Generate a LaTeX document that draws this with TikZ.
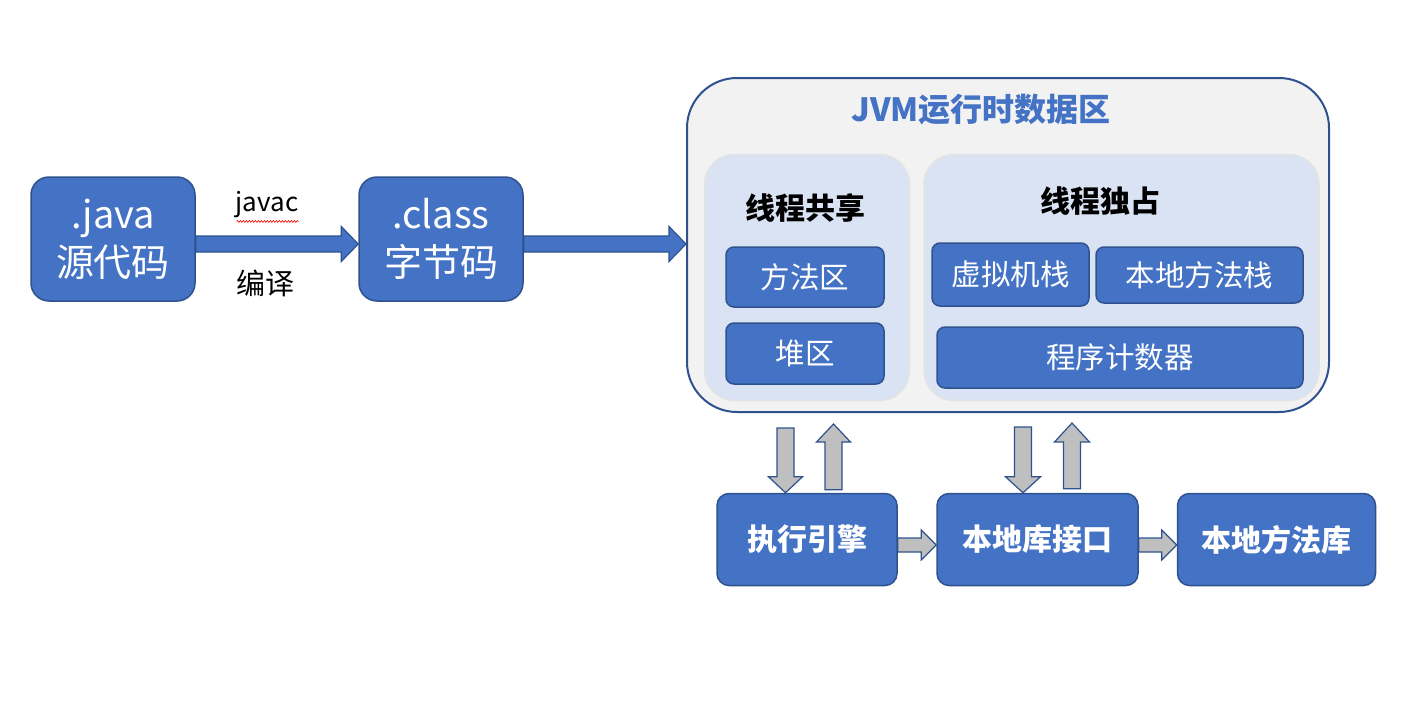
\documentclass[tikz,border=0pt]{standalone}
\usepackage{fontspec}
\setmainfont{Noto Sans CJK SC}
\usetikzlibrary{calc,decorations.pathmorphing}
\definecolor{boxblue}{HTML}{4472C4}
\definecolor{edgeblue}{HTML}{2F528F}
\definecolor{panelbg}{HTML}{DAE3F3}
\definecolor{jvmbg}{HTML}{F2F2F2}
\definecolor{arrowgrey}{HTML}{BFBFBF}
\definecolor{paneledge}{HTML}{E3E3E3}
% right-pointing block arrow: style, start, tip, shaft half, head half, head length
\newcommand\rblockarrow[6]{\draw[#1] ($(#2)+(0,-#4)$) -- ($(#3)+(-#6,-#4)$) -- ($(#3)+(-#6,-#5)$) -- (#3) -- ($(#3)+(-#6,#5)$) -- ($(#3)+(-#6,#4)$) -- ($(#2)+(0,#4)$) -- cycle;}
% downward block arrow
\newcommand\dblockarrow[6]{\draw[#1] ($(#2)+(-#4,0)$) -- ($(#3)+(-#4,-#6)$) -- ($(#3)+(-#5,-#6)$) -- (#3) -- ($(#3)+(#5,-#6)$) -- ($(#3)+(#4,-#6)$) -- ($(#2)+(#4,0)$) -- cycle;}
% upward block arrow
\newcommand\ublockarrow[6]{\draw[#1] ($(#2)+(-#4,0)$) -- ($(#3)+(-#4,#6)$) -- ($(#3)+(-#5,#6)$) -- (#3) -- ($(#3)+(#5,#6)$) -- ($(#3)+(#4,#6)$) -- ($(#2)+(#4,0)$) -- cycle;}
\begin{document}
\begin{tikzpicture}[x=1pt,y=-1pt,
  bluebox/.style={draw=edgeblue, line width=1.5pt, fill=boxblue, rounded corners=#1, text=white, inner sep=0pt, align=center},
  bluebox/.default=10pt,
  bigtext/.style={font=\fontsize{38}{48}\selectfont},
  midtext/.style={font=\fontsize{29.5}{34}\selectfont},
  boldtext/.style={font=\fontsize{30}{34}\selectfont\bfseries},
  panel/.style={draw=paneledge, line width=1.5pt, fill=panelbg, rounded corners=30pt},
  bluearrow/.style={draw=edgeblue, line width=1.2pt, fill=boxblue, line join=miter},
  greyarrow/.style={draw=edgeblue, line width=1.2pt, fill=arrowgrey, line join=miter},
  label/.style={text=black, inner sep=0pt}
]
\useasboundingbox[fill=white] (0,0) rectangle (1406,715);

% left chain
\node[bluebox=18pt, bigtext, minimum width=164pt, minimum height=124pt] (java) at (113,239) {.java\\源代码};
\node[bluebox=18pt, bigtext, minimum width=164pt, minimum height=124pt] (class) at (441,239) {.class\\字节码};
\node[label, font=\fontsize{26}{30}\selectfont] (javac) at (267,205) {javac};
\node[label, font=\fontsize{29}{32}\selectfont] (bianyi) at (265,283) {编译};
\draw[red, line width=0.6pt, decorate, decoration={snake, amplitude=0.9pt, segment length=3pt}] ($(javac.south west)+(1,3)$) -- ($(javac.south east)+(0,3)$);

% JVM area
\node[draw=edgeblue, line width=2pt, fill=jvmbg, rounded corners=50pt, minimum width=642pt, minimum height=334pt] (jvm) at (1008,245) {};
\node[text=boxblue, font=\fontsize{32}{36}\selectfont\bfseries, inner sep=0pt] (title) at (981,110) {JVM运行时数据区};
\node[panel, minimum width=205pt, minimum height=246pt] (shared) at (807,277.5) {};
\node[panel, minimum width=395pt, minimum height=246pt] (private) at (1121.5,277.5) {};
\node[label, font=\fontsize{30}{34}\selectfont\bfseries] (sharedlbl) at (805,208) {线程共享};
\node[label, font=\fontsize{30}{34}\selectfont\bfseries] (privatelbl) at (1100,201) {线程独占};

\node[bluebox=8pt, midtext, minimum width=158pt, minimum height=60pt] (method) at (805,277) {方法区};
\node[bluebox=8pt, midtext, minimum width=158pt, minimum height=61pt] (heap) at (805,353.5) {堆区};
\node[bluebox=8pt, midtext, minimum width=157pt, minimum height=63pt] (vstack) at (1010.5,274.5) {虚拟机栈};
\node[bluebox=8pt, midtext, minimum width=207pt, minimum height=56pt] (nstack) at (1199.5,275) {本地方法栈};
\node[bluebox=8pt, midtext, minimum width=366pt, minimum height=61pt] (pc) at (1120,357.5) {程序计数器};

% bottom chain
\node[bluebox=12pt, boldtext, minimum width=180pt, minimum height=92pt] (exec) at (807,539.5) {执行引擎};
\node[bluebox=12pt, boldtext, minimum width=201pt, minimum height=92pt] (iface) at (1037.5,539.5) {本地库接口};
\node[bluebox=12pt, boldtext, minimum width=198pt, minimum height=92pt] (nlib) at (1276.5,539.5) {本地方法库};

% blue arrows
\coordinate (a1s) at ($(java.east)+(0,5)$);
\coordinate (a1t) at ($(class.west)+(0,5)$);
\rblockarrow{bluearrow}{a1s}{a1t}{8}{17.5}{17}
\coordinate (a2s) at ($(class.east)+(0,5)$);
\coordinate (a2t) at (a2s -| jvm.west);
\rblockarrow{bluearrow}{a2s}{a2t}{8}{17.5}{17}

% grey vertical arrows
\coordinate (d1t) at ($(exec.north)+(-21.5,0)$);
\coordinate (d1s) at ($(d1t |- jvm.south)+(0,15)$);
\dblockarrow{greyarrow}{d1s}{d1t}{8.5}{17}{16}
\coordinate (u1s) at ($(exec.north)+(26.5,-3)$);
\coordinate (u1t) at ($(u1s |- jvm.south)+(0,11)$);
\ublockarrow{greyarrow}{u1s}{u1t}{8.5}{17}{18}
\coordinate (d2t) at ($(iface.north)+(-14.5,0)$);
\coordinate (d2s) at ($(d2t |- jvm.south)+(0,14)$);
\dblockarrow{greyarrow}{d2s}{d2t}{8.5}{17.5}{16}
\coordinate (u2s) at ($(iface.north)+(34.5,-4)$);
\coordinate (u2t) at ($(u2s |- jvm.south)+(0,10)$);
\ublockarrow{greyarrow}{u2s}{u2t}{8.5}{17.5}{19}

% grey horizontal arrows
\coordinate (h1s) at ($(exec.east)+(0,5.5)$);
\coordinate (h1t) at ($(iface.west)+(0,5.5)$);
\rblockarrow{greyarrow}{h1s}{h1t}{7}{15}{15}
\coordinate (h2s) at ($(iface.east)+(0,5.5)$);
\coordinate (h2t) at ($(nlib.west)+(0,5.5)$);
\rblockarrow{greyarrow}{h2s}{h2t}{7}{15}{15}
\end{tikzpicture}
\end{document}
